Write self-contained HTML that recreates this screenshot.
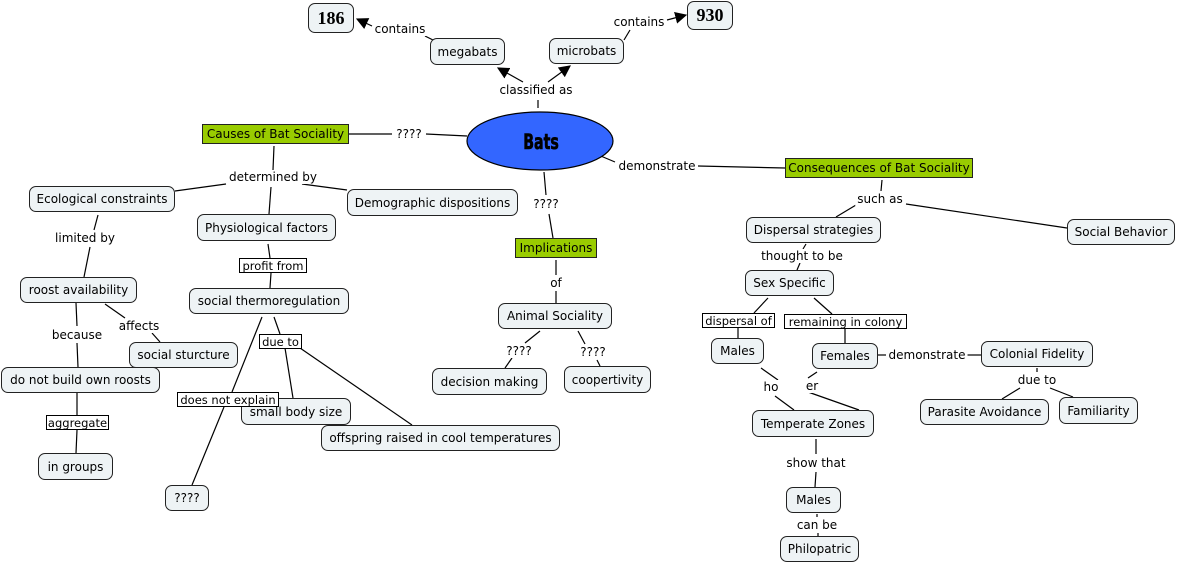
<!DOCTYPE html>
<html><head><style>
body{margin:0;width:1178px;height:566px;background:#fff;position:relative;overflow:hidden;font-family:"DejaVu Sans","Liberation Sans",sans-serif;font-size:12px;color:#000}
.n{position:absolute;box-sizing:border-box;background:#eef3f5;border:1px solid #222;border-radius:7px;display:flex;align-items:center;justify-content:center;white-space:nowrap}
.g{position:absolute;box-sizing:border-box;background:#99cc00;border:1px solid #222;display:flex;align-items:center;justify-content:center;white-space:nowrap}
.l{position:absolute;background:#fff;transform:translate(-50%,-50%);white-space:nowrap;padding:0 2px}
.b{position:absolute;box-sizing:border-box;background:#fff;border:1px solid #000;display:flex;align-items:center;justify-content:center;white-space:nowrap;font-size:11.5px}
.num{font-family:"Liberation Serif",serif;font-weight:bold;font-size:18px}
svg{position:absolute;left:0;top:0}
</style></head><body>
<svg width="1178" height="566" stroke="#000" stroke-width="1.2" fill="none">
<defs><marker id="a" markerWidth="10" markerHeight="10" refX="9" refY="5" orient="auto"><path d="M0,0L10,5L0,10z" fill="#000" stroke="none"/></marker></defs>
<line x1="538" y1="108" x2="538" y2="100"/>
<line x1="523" y1="82" x2="498" y2="68" marker-end="url(#a)"/>
<line x1="548" y1="82" x2="570" y2="66" marker-end="url(#a)"/>
<line x1="433" y1="40" x2="425" y2="36"/>
<line x1="372" y1="26" x2="357" y2="19" marker-end="url(#a)"/>
<line x1="624" y1="40" x2="630" y2="30"/>
<line x1="667" y1="20" x2="686" y2="15" marker-end="url(#a)"/>
<line x1="349" y1="134" x2="392" y2="134"/><line x1="426" y1="134" x2="467" y2="136"/>
<line x1="596" y1="154" x2="615" y2="162"/><line x1="698" y1="166" x2="785" y2="168"/>
<line x1="544" y1="172" x2="546" y2="195"/><line x1="549" y1="214" x2="553" y2="238"/>
<line x1="274" y1="146" x2="273" y2="170"/>
<line x1="175" y1="191" x2="226" y2="184"/><line x1="302" y1="184" x2="347" y2="190"/>
<line x1="271" y1="187" x2="269" y2="214"/>
<line x1="98" y1="215" x2="94" y2="230"/><line x1="90" y1="247" x2="84" y2="277"/>
<line x1="268" y1="244" x2="270" y2="258"/><line x1="271" y1="273" x2="270" y2="288"/>
<line x1="76" y1="303" x2="77" y2="326"/><line x1="77" y1="343" x2="78" y2="367"/>
<line x1="105" y1="304" x2="125" y2="318"/><line x1="152" y1="333" x2="160" y2="342"/>
<line x1="77" y1="393" x2="77" y2="415"/><line x1="77" y1="430" x2="76" y2="453"/>
<line x1="274" y1="317" x2="280" y2="334"/><line x1="285" y1="348" x2="293" y2="398"/><line x1="300" y1="348" x2="412" y2="425"/>
<line x1="262" y1="317" x2="232" y2="392"/><line x1="224" y1="407" x2="192" y2="485"/>
<line x1="556" y1="260" x2="556" y2="275"/><line x1="556" y1="291" x2="556" y2="303"/>
<line x1="540" y1="331" x2="525" y2="343"/><line x1="512" y1="358" x2="505" y2="368"/>
<line x1="578" y1="331" x2="585" y2="344"/><line x1="597" y1="360" x2="600" y2="366"/>
<line x1="882" y1="180" x2="881" y2="191"/><line x1="856" y1="205" x2="836" y2="217"/><line x1="906" y1="204" x2="1067" y2="228"/>
<line x1="806" y1="244" x2="803" y2="249"/><line x1="800" y1="263" x2="797" y2="270"/>
<line x1="768" y1="298" x2="754" y2="313"/><line x1="814" y1="298" x2="832" y2="314"/>
<line x1="738" y1="328" x2="738" y2="338"/><line x1="845" y1="329" x2="845" y2="343"/>
<line x1="878" y1="355" x2="886" y2="355"/><line x1="967" y1="355" x2="981" y2="355"/>
<line x1="1037" y1="368" x2="1037" y2="372"/><line x1="1020" y1="388" x2="1002" y2="399"/><line x1="1050" y1="388" x2="1073" y2="397"/>
<line x1="761" y1="368" x2="778" y2="380"/><line x1="775" y1="396" x2="794" y2="410"/>
<line x1="817" y1="372" x2="808" y2="378"/><line x1="808" y1="392" x2="859" y2="410"/>
<line x1="816" y1="439" x2="816" y2="454"/><line x1="816" y1="472" x2="815" y2="487"/>
<line x1="817" y1="514" x2="817" y2="517"/><line x1="818" y1="533" x2="818" y2="536"/>
</svg>
<svg width="1178" height="566"><ellipse cx="540" cy="141" rx="73" ry="29" fill="#3366ff" stroke="#000" stroke-width="1.2"/>
<text x="541" y="149" text-anchor="middle" font-family="DejaVu Sans Condensed,Liberation Sans Narrow,sans-serif" font-weight="bold" font-size="21" fill="#000" stroke="#000" stroke-width="0.6" transform="translate(541 0) scale(0.75 1) translate(-541 0)">Bats</text></svg>

<div class="n num" style="left:308px;top:3px;width:46px;height:30px">186</div>
<div class="n num" style="left:687px;top:1px;width:46px;height:29px">930</div>
<div class="n" style="left:430px;top:38px;width:75px;height:27px">megabats</div>
<div class="n" style="left:549px;top:38px;width:75px;height:26px">microbats</div>
<div class="g" style="left:202px;top:124px;width:147px;height:20px">Causes of Bat Sociality</div>
<div class="g" style="left:785px;top:158px;width:188px;height:20px">Consequences of Bat Sociality</div>
<div class="g" style="left:515px;top:238px;width:82px;height:20px">Implications</div>
<div class="n" style="left:29px;top:186px;width:146px;height:26px">Ecological constraints</div>
<div class="n" style="left:347px;top:189px;width:171px;height:27px">Demographic dispositions</div>
<div class="n" style="left:197px;top:214px;width:139px;height:27px">Physiological factors</div>
<div class="n" style="left:20px;top:277px;width:117px;height:26px">roost availability</div>
<div class="n" style="left:189px;top:288px;width:160px;height:26px">social thermoregulation</div>
<div class="n" style="left:129px;top:342px;width:109px;height:26px">social sturcture</div>
<div class="n" style="left:1px;top:367px;width:159px;height:26px">do not build own roosts</div>
<div class="n" style="left:38px;top:453px;width:75px;height:27px">in groups</div>
<div class="n" style="left:241px;top:398px;width:110px;height:27px">small body size</div>
<div class="n" style="left:321px;top:425px;width:239px;height:26px">offspring raised in cool temperatures</div>
<div class="n" style="left:165px;top:485px;width:44px;height:26px">????</div>
<div class="n" style="left:498px;top:303px;width:114px;height:26px">Animal Sociality</div>
<div class="n" style="left:432px;top:368px;width:115px;height:27px">decision making</div>
<div class="n" style="left:564px;top:366px;width:87px;height:27px">coopertivity</div>
<div class="n" style="left:746px;top:217px;width:135px;height:26px">Dispersal strategies</div>
<div class="n" style="left:1067px;top:219px;width:108px;height:26px">Social Behavior</div>
<div class="n" style="left:745px;top:270px;width:89px;height:26px">Sex Specific</div>
<div class="n" style="left:711px;top:338px;width:53px;height:26px">Males</div>
<div class="n" style="left:812px;top:343px;width:66px;height:26px">Females</div>
<div class="n" style="left:981px;top:341px;width:112px;height:26px">Colonial Fidelity</div>
<div class="n" style="left:920px;top:399px;width:129px;height:26px">Parasite Avoidance</div>
<div class="n" style="left:1059px;top:397px;width:79px;height:27px">Familiarity</div>
<div class="n" style="left:752px;top:410px;width:122px;height:27px">Temperate Zones</div>
<div class="n" style="left:786px;top:487px;width:55px;height:26px">Males</div>
<div class="n" style="left:780px;top:536px;width:79px;height:26px">Philopatric</div>

<div class="l" style="left:400px;top:29px">contains</div>
<div class="l" style="left:639px;top:22px">contains</div>
<div class="l" style="left:536px;top:90px">classified as</div>
<div class="l" style="left:409px;top:134px">????</div>
<div class="l" style="left:273px;top:177px">determined by</div>
<div class="l" style="left:85px;top:238px">limited by</div>
<div class="l" style="left:546px;top:204px">????</div>
<div class="l" style="left:657px;top:166px">demonstrate</div>
<div class="l" style="left:556px;top:283px">of</div>
<div class="l" style="left:880px;top:199px">such as</div>
<div class="l" style="left:802px;top:256px">thought to be</div>
<div class="l" style="left:77px;top:335px">because</div>
<div class="l" style="left:139px;top:326px">affects</div>
<div class="l" style="left:519px;top:351px">????</div>
<div class="l" style="left:593px;top:352px">????</div>
<div class="l" style="left:927px;top:355px">demonstrate</div>
<div class="l" style="left:1037px;top:380px">due to</div>
<div class="l" style="left:816px;top:463px">show that</div>
<div class="l" style="left:817px;top:525px">can be</div>
<div class="l" style="left:771px;top:387px">ho</div>
<div class="l" style="left:812px;top:386px">er</div>

<div class="b" style="left:239px;top:258px;width:68px;height:15px">profit from</div>
<div class="b" style="left:259px;top:334px;width:43px;height:15px">due to</div>
<div class="b" style="left:177px;top:392px;width:102px;height:15px">does not explain</div>
<div class="b" style="left:46px;top:415px;width:63px;height:15px">aggregate</div>
<div class="b" style="left:702px;top:313px;width:73px;height:15px">dispersal of</div>
<div class="b" style="left:784px;top:314px;width:123px;height:15px">remaining in colony</div>
</body></html>
